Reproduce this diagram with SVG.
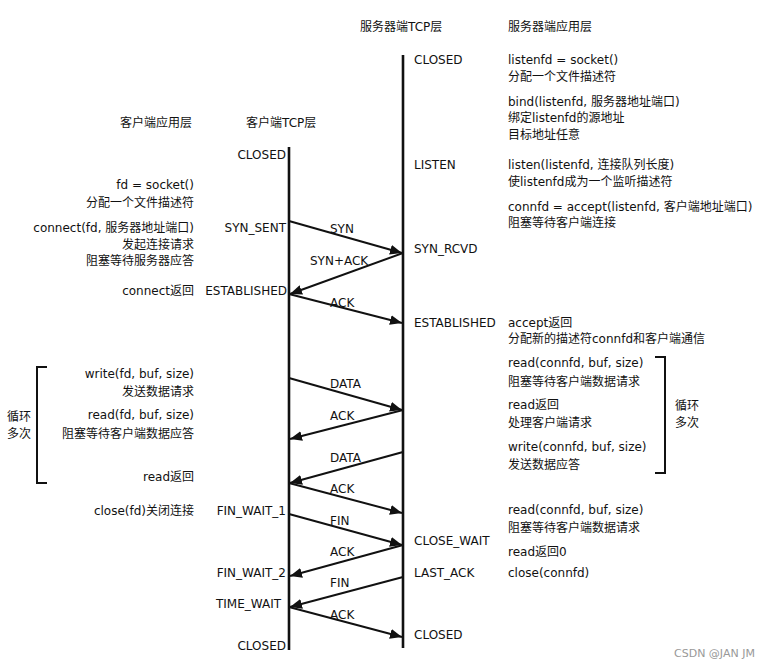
<svg xmlns="http://www.w3.org/2000/svg" width="771" height="666" viewBox="0 0 771 666">
<style>
text{font-family:"DejaVu Sans","Noto Sans CJK SC",sans-serif;font-size:12px;fill:#111}
.e{text-anchor:end}
.life{stroke:#111;stroke-width:2.6;fill:none}
.msg{stroke:#111;stroke-width:2;fill:none;marker-end:url(#ah)}
.br{stroke:#111;stroke-width:2;fill:none}
.wm{font-size:11px;fill:#999}
</style>
<defs>
<marker id="ah" markerUnits="userSpaceOnUse" markerWidth="13" markerHeight="10" refX="12" refY="5" orient="auto">
<path d="M0,0 L12,5 L0,10 z" fill="#111"/>
</marker>
</defs>
<rect width="771" height="666" fill="#fff"/>

<g id="headers">
<text x="120" y="127">客户端应用层</text>
<text x="246" y="127">客户端TCP层</text>
<text x="360" y="31">服务器端TCP层</text>
<text x="508" y="31">服务器端应用层</text>
</g>

<g id="client-tcp">
<line class="life" x1="289" y1="147" x2="289" y2="650"/>
<text class="e" x="286" y="159">CLOSED</text>
<text class="e" x="286" y="232">SYN_SENT</text>
<text class="e" x="287" y="295">ESTABLISHED</text>
<text class="e" x="286" y="515">FIN_WAIT_1</text>
<text class="e" x="286" y="577">FIN_WAIT_2</text>
<text x="216" y="608">TIME_WAIT</text>
<text class="e" x="286" y="650">CLOSED</text>
</g>

<g id="server-tcp">
<line class="life" x1="403" y1="55" x2="403" y2="648"/>
<text x="414" y="64">CLOSED</text>
<text x="414" y="169">LISTEN</text>
<text x="414" y="253">SYN_RCVD</text>
<text x="414" y="327">ESTABLISHED</text>
<text x="414" y="545">CLOSE_WAIT</text>
<text x="414" y="577">LAST_ACK</text>
<text x="414" y="639">CLOSED</text>
</g>

<g id="client-app">
<text class="e" x="194" y="189">fd = socket()</text>
<text class="e" x="194" y="207">分配一个文件描述符</text>
<text class="e" x="194" y="232">connect(fd, 服务器地址端口)</text>
<text class="e" x="194" y="249">发起连接请求</text>
<text class="e" x="194" y="265">阻塞等待服务器应答</text>
<text class="e" x="194" y="295">connect返回</text>
<text class="e" x="194" y="378">write(fd, buf, size)</text>
<text class="e" x="194" y="396">发送数据请求</text>
<text class="e" x="194" y="419">read(fd, buf, size)</text>
<text class="e" x="194" y="438">阻塞等待客户端数据应答</text>
<text class="e" x="194" y="481">read返回</text>
<text class="e" x="194" y="515">close(fd)关闭连接</text>
</g>

<g id="client-loop">
<path class="br" d="M47,367 H37 V483 H47"/>
<text x="7" y="421">循环</text>
<text x="7" y="438">多次</text>
</g>

<g id="server-app">
<text x="508" y="64">listenfd = socket()</text>
<text x="508" y="81">分配一个文件描述符</text>
<text x="508" y="106">bind(listenfd, 服务器地址端口)</text>
<text x="508" y="122">绑定listenfd的源地址</text>
<text x="508" y="139">目标地址任意</text>
<text x="508" y="169">listen(listenfd, 连接队列长度)</text>
<text x="508" y="186">使listenfd成为一个监听描述符</text>
<text x="508" y="211">connfd = accept(listenfd, 客户端地址端口)</text>
<text x="508" y="227">阻塞等待客户端连接</text>
<text x="508" y="327">accept返回</text>
<text x="508" y="343">分配新的描述符connfd和客户端通信</text>
<text x="508" y="367">read(connfd, buf, size)</text>
<text x="508" y="386">阻塞等待客户端数据请求</text>
<text x="508" y="409">read返回</text>
<text x="508" y="427">处理客户端请求</text>
<text x="508" y="451">write(connfd, buf, size)</text>
<text x="508" y="469">发送数据应答</text>
<text x="508" y="514">read(connfd, buf, size)</text>
<text x="508" y="532">阻塞等待客户端数据请求</text>
<text x="508" y="556">read返回0</text>
<text x="508" y="577">close(connfd)</text>
</g>

<g id="server-loop">
<path class="br" d="M655,357 H665 V473 H655"/>
<text x="675" y="410">循环</text>
<text x="675" y="427">多次</text>
</g>

<g id="connectors">
<line class="msg" x1="289" y1="221" x2="402" y2="253"/>
<line class="msg" x1="403" y1="253" x2="290" y2="294"/>
<line class="msg" x1="289" y1="294" x2="402" y2="323"/>
<line class="msg" x1="289" y1="378" x2="402" y2="410"/>
<line class="msg" x1="403" y1="410" x2="290" y2="439"/>
<line class="msg" x1="403" y1="452" x2="290" y2="483"/>
<line class="msg" x1="289" y1="483" x2="402" y2="513"/>
<line class="msg" x1="289" y1="514" x2="402" y2="545"/>
<line class="msg" x1="403" y1="545" x2="290" y2="576"/>
<line class="msg" x1="403" y1="577" x2="290" y2="607"/>
<line class="msg" x1="289" y1="607" x2="402" y2="637"/>
<text x="330" y="233">SYN</text>
<text x="310" y="265">SYN+ACK</text>
<text x="330" y="307">ACK</text>
<text x="330" y="388">DATA</text>
<text x="330" y="420">ACK</text>
<text x="330" y="462">DATA</text>
<text x="330" y="493">ACK</text>
<text x="330" y="525">FIN</text>
<text x="330" y="556">ACK</text>
<text x="330" y="587">FIN</text>
<text x="330" y="619">ACK</text>
</g>

<text class="wm" x="674" y="657">CSDN @JAN JM</text>
</svg>
